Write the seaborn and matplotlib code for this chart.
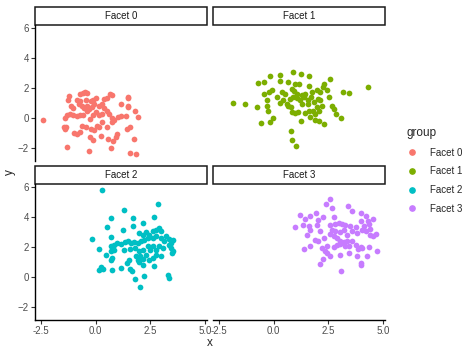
"""
Faceted scatter of four groups, ggplot-style (theme_classic, facet_wrap).
"""

import matplotlib
matplotlib.use("Agg")
import matplotlib.pyplot as plt
from matplotlib.patches import Rectangle
from matplotlib.lines import Line2D
import pandas as pd
import seaborn as sns

groups = ["Facet 0", "Facet 1", "Facet 2", "Facet 3"]
colors = ["#F8766D", "#7CAE00", "#00BFC4", "#C77CFF"]

# points
facet0_x = [-1.23, -0.69, -0.58, -0.49, -0.38, 0.64, 0.75, 1.46, 1.50,
            -1.27, -0.84, -0.72, -0.46, -0.23, -0.11, 0.00, 0.38, 0.51, 1.15, 1.46, 1.49,
            -1.12, -1.03, -0.77, -0.61, -0.54, -0.41, -0.31, -0.15, -0.08, 0.15, 0.31, 0.38, 0.54, 1.81,
            -1.38, -1.30, -1.15, -1.03, -0.84, -0.69, -0.57, -0.41, -0.26, -0.11, 0.00, 0.15, 0.31,
            0.61, 0.77, 0.84, 1.03, 1.15, 1.38, 1.95, -2.41,
            -1.46, -1.41, -1.33, -1.00, -0.84, -0.69, -0.61, -0.46, -0.23, -0.08, 0.05, 0.15, 0.31,
            0.54, 0.77, 1.00, 1.43, 1.55, 0.26,
            -0.26, -0.14, 0.58, 0.81, 0.92, 1.76,
            -1.29, -0.28, 0.69, 1.56, 1.86]
facet0_y = [1.47, 1.62, 1.69, 1.71, 1.67, 1.64, 1.53, 1.44, 1.33,
            1.18, 1.24, 1.11, 1.22, 1.11, 1.18, 1.36, 1.29, 1.36, 0.96, 0.84, 0.73,
            0.84, 0.69, 0.91, 0.78, 0.67, 0.84, 0.62, 0.73, 0.96, 0.78, 0.96, 0.69, 0.51, 0.47,
            0.02, 0.18, 0.29, 0.22, 0.13, 0.18, 0.24, 0.47, -0.04, 0.18, 0.40, 0.18, 0.29,
            0.29, 0.02, -0.11, 0.07, 0.13, 0.13, 0.11, -0.11,
            -0.56, -0.71, -0.60, -0.98, -1.07, -0.93, -0.49, -0.60, -0.71, -0.78, -0.49, -0.60, -0.27,
            -0.56, -0.22, -1.04, -0.71, -0.56, -1.16,
            -1.22, -1.44, -1.38, -1.49, -1.27, -1.36,
            -1.93, -2.16, -1.96, -2.31, -2.40]

facet1_x = [-0.16, 0.30, 0.88, 1.25, 1.63, -0.70, -0.45, 0.27, 0.68, 2.59,
            0.99, 1.17, 1.60, 2.29, 2.24, 1.98, 3.16, 3.43, 4.33, -0.08, -0.19, -0.42,
            0.37, 0.53, 0.83, 0.91, 1.06, 1.29, 1.44, 1.75, 2.10, 2.44, 2.52,
            -0.31, -0.28, -0.74, -1.31, -1.84, -0.27, 0.15, 0.27, 0.45, 0.60, 0.73, 0.88,
            1.09, 1.22, 1.37, 1.55, 1.70, 1.83, 2.01, 2.13, 2.21, 1.55, 1.29, 0.68, 0.79,
            0.99, 0.83, 1.11, 1.44, 1.60, 1.80, 1.98, 2.06, 1.90, 1.67, 1.90, 2.06,
            2.67, 2.74, 2.87, 3.08, 1.26, 2.32, -0.01, -0.16, -0.57,
            0.80, 0.85, 1.03]
facet1_y = [2.80, 2.89, 3.07, 2.93, 2.78, 2.33, 2.40, 2.47, 2.40, 2.58,
            2.24, 2.29, 2.11, 2.29, 2.07, 1.84, 1.73, 1.67, 2.07, 1.89, 1.73, 1.58,
            1.73, 1.62, 1.96, 1.80, 1.62, 1.51, 1.62, 1.73, 1.73, 1.89, 1.44,
            1.22, 0.84, 0.73, 0.96, 1.02, 0.47, 1.40, 1.00, 1.18, 0.96, 1.29, 1.40,
            1.36, 1.18, 1.40, 1.22, 1.44, 1.07, 1.29, 1.18, 0.84, 0.96, 0.96, 0.84, 0.73,
            0.33, 0.40, 0.40, 0.36, 0.47, 0.51, 0.73, 0.51, 0.29, 0.07, -0.11, -0.16,
            0.84, 0.62, 0.29, 0.02, -0.20, -0.38, 0.02, -0.27, -0.33,
            -0.82, -1.44, -1.82]

facet2_x = [0.31, 2.84, 1.30, 0.72, 1.69, 2.68, 2.15, 1.69, 0.51, 1.23, -0.15, 0.72,
            1.99, 2.15, 2.30, 2.45, 2.61, 2.76, 2.91, 2.99, 2.76, 2.99, 3.22, 3.37, 3.53,
            3.45, 3.33, 3.14, 2.61, 2.38, 2.22, 2.07, 1.92, 1.76, 1.61, 1.46, 1.33, 1.15,
            0.97, 0.84, 0.72, 0.15, 0.69, 0.84, 0.46, 0.77, 0.69, 1.30, 1.58, 1.79, 1.99,
            2.15, 2.38, 2.50, 2.61, 2.76, 2.91, 3.07, 3.45, 3.53, 3.48, 2.99, 2.76, 2.61,
            2.45, 2.30, 2.15, 2.04, 1.84, 1.92, 1.99, 1.53, 1.43, 0.23, 0.35, 0.15, 0.77,
            1.15, 1.58, 1.64, 2.15, 2.65, 3.30, 3.33, 1.81, 2.19, 2.04]
facet2_y = [5.78, 4.87, 4.44, 3.93, 3.93, 4.00, 3.60, 3.42, 3.31, 3.16, 2.56, 2.64,
            2.93, 2.82, 2.98, 2.82, 3.04, 3.16, 3.27, 3.04, 2.71, 2.60, 2.71, 2.53, 2.49,
            2.27, 2.11, 2.38, 2.60, 2.60, 2.49, 2.38, 2.27, 2.33, 2.27, 2.38, 2.31, 2.20,
            2.27, 2.11, 2.04, 1.89, 1.71, 1.78, 1.49, 1.27, 1.16, 1.82, 1.87, 1.93, 1.71,
            1.82, 2.04, 1.82, 2.04, 1.82, 2.04, 1.93, 1.93, 1.71, 1.60, 1.38, 1.49, 1.27,
            1.16, 1.49, 1.22, 1.42, 1.38, 1.16, 0.98, 1.11, 0.93, 0.67, 0.56, 0.49, 0.49,
            0.60, 0.53, 0.38, 0.82, 0.76, 0.16, -0.07, -0.13, 0.09, -0.67]

facet3_x = [2.56, 2.39, 2.67, 3.40, 3.59, 3.97, 4.20, 4.55, 4.30, 1.22, 1.44, 1.64,
            1.95, 2.27, 2.01, 2.74, 0.99, 1.32, 1.60, 1.67, 1.98, 2.13, 1.52, 1.90, 2.01,
            2.29, 2.59, 2.82, 2.97, 3.13, 3.28, 3.51, 3.74, 3.97, 4.12, 4.04, 4.35, 4.40,
            4.66, 4.55, 4.40, 4.20, 3.81, 3.59, 3.36, 3.20, 3.05, 2.82, 2.67, 2.59, 2.74,
            2.90, 3.02, 3.20, 3.36, 3.59, 3.74, 3.97, 3.85, 4.04, 4.35, 4.73, 3.43, 3.28,
            3.05, 2.90, 2.74, 2.44, 2.21, 2.36, 2.59, 2.44, 3.05, 3.43, 3.81, 4.27, 3.97,
            4.01, 2.25, 2.13, 1.37, 1.64, 3.08]
facet3_y = [5.16, 4.87, 4.60, 4.71, 4.38, 4.27, 4.09, 3.89, 3.76, 4.11, 3.87, 4.09,
            4.27, 3.98, 3.78, 4.00, 3.33, 3.49, 3.38, 3.11, 3.49, 3.04, 2.78, 2.49, 2.38,
            2.60, 3.49, 3.53, 3.60, 3.53, 3.49, 3.38, 3.31, 3.71, 3.38, 3.16, 3.53, 3.22,
            2.87, 2.71, 2.82, 3.04, 2.93, 3.04, 2.82, 3.16, 3.00, 3.04, 3.16, 2.87, 2.71,
            2.60, 2.42, 2.33, 2.42, 2.38, 2.16, 1.98, 1.89, 1.93, 2.00, 1.71, 2.04, 2.04,
            2.20, 2.11, 1.98, 2.04, 1.93, 1.71, 1.38, 1.60, 1.49, 1.60, 1.38, 1.42, 0.93,
            0.82, 1.22, 0.87, 1.89, 2.04, 0.44]

xs = [facet0_x, facet1_x, facet2_x, facet3_x]
ys = [facet0_y, facet1_y, facet2_y, facet3_y]

df = pd.concat(
    [pd.DataFrame({"x": x, "y": y, "group": g}) for g, x, y in zip(groups, xs, ys)],
    ignore_index=True,
)

sns.set_theme(style="white")
plt.rcParams["font.family"] = ["Liberation Sans", "DejaVu Sans"]

W, H = 474, 355
fig = plt.figure(figsize=(W / 100, H / 100), dpi=100)


def px_box(left, top, right, bottom):
    return [left / W, 1 - bottom / H, (right - left) / W, (bottom - top) / H]


# panel boxes in pixels: left, top, right, bottom
cols = [(35, 207), (213, 385)]
rows = [(25, 160.5), (184, 319.5)]
strip_px = 18

# shared scales with ggplot-like 5% expansion
xr = df["x"].max() - df["x"].min()
yr = df["y"].max() - df["y"].min()
xlim = (df["x"].min() - 0.05 * xr, df["x"].max() + 0.05 * xr)
ylim = (df["y"].min() - 0.05 * yr, df["y"].max() + 0.05 * yr)

for i, (g, c) in enumerate(zip(groups, colors)):
    r, k = divmod(i, 2)
    (l, rt), (t, b) = cols[k], rows[r]
    ax = fig.add_axes(px_box(l, t, rt, b))
    sns.scatterplot(data=df[df["group"] == g], x="x", y="y", color=c,
                    s=17, linewidth=0, ax=ax, legend=False)
    ax.set_xlim(xlim)
    ax.set_ylim(ylim)
    ax.set_xticks([-2.5, 0, 2.5, 5.0], ["-2.5", "0.0", "2.5", "5.0"])
    ax.set_yticks([-2, 0, 2, 4, 6])
    ax.set_xlabel("")
    ax.set_ylabel("")
    ax.set_facecolor("white")
    for side in ["top", "right"]:
        ax.spines[side].set_visible(False)
    for side in ["left", "bottom"]:
        ax.spines[side].set_color("black")
        ax.spines[side].set_linewidth(1.0)
    ax.tick_params(axis="both", length=3, width=0.8, color="#333333",
                   labelsize=7, labelcolor="#4D4D4D", pad=1.5,
                   bottom=True, left=True)
    if r == 0:
        ax.spines["bottom"].set_visible(False)
        ax.tick_params(axis="x", bottom=False, labelbottom=False)
    if k == 1:
        ax.spines["left"].set_visible(False)
        ax.tick_params(axis="y", left=False, labelleft=False)

    # strip on top of the panel
    frac = strip_px / (b - t)
    ax.add_patch(Rectangle((0, 1), 1, frac, transform=ax.transAxes, clip_on=False,
                           facecolor="white", edgecolor="#1A1A1A", linewidth=1.1))
    ax.text(0.5, 1 + frac / 2, g, transform=ax.transAxes, ha="center", va="center",
            fontsize=7, color="#1A1A1A")

fig.text(210 / W, 1 - 343 / H, "x", ha="center", va="center", fontsize=8.5)
fig.text(10 / W, 1 - 172 / H, "y", ha="center", va="center", fontsize=8.5, rotation=90)

handles = [Line2D([0], [0], marker="o", ls="", color=c, markersize=3.8) for c in colors]
fig.legend(handles, groups, title="group", loc="upper left",
           bbox_to_anchor=(398 / W, 1 - 118 / H), frameon=False, fontsize=7,
           title_fontsize=8.5, handlelength=1.0, handletextpad=1.4,
           labelspacing=0.9, alignment="left")

fig.savefig("out.png", dpi=100)
plt.close(fig)
